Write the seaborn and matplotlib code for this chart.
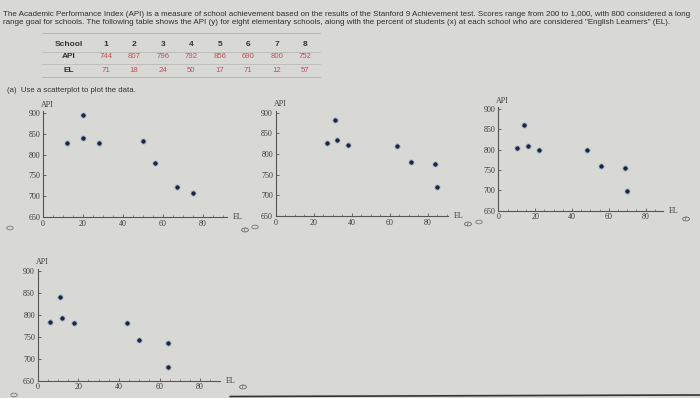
import matplotlib
matplotlib.use("Agg")
import matplotlib.pyplot as plt
import seaborn as sns
import pandas as pd
from matplotlib.patches import Circle

# ---------------- data ----------------
schools = ["1", "2", "3", "4", "5", "6", "7", "8"]
api_values = ["744", "807", "796", "792", "856", "690", "800", "752"]
el_values = ["71", "18", "24", "50", "17", "71", "12", "57"]

# candidate scatterplots
el_a = [12, 20, 20, 28, 50, 56, 67, 75]
api_a = [827, 894, 840, 829, 832, 781, 723, 708]

el_b = [27, 31, 32, 38, 64, 71, 84, 85]
api_b = [826, 882, 834, 822, 820, 781, 777, 719]

el_c = [10, 14, 16, 22, 48, 56, 69, 70]
api_c = [804, 860, 810, 800, 799, 760, 754, 699]

el_d = [6, 11, 12, 18, 44, 50, 64, 64]
api_d = [783, 841, 792, 781, 782, 742, 736, 681]

y_ticks = [650, 700, 750, 800, 850, 900]
x_ticks = [0, 20, 40, 60, 80]

header_1 = ("The Academic Performance Index (API) is a measure of school achievement based on the results of the "
            "Stanford 9 Achievement test. Scores range from 200 to 1,000, with 800 considered a long")
header_2 = ("range goal for schools. The following table shows the API (y) for eight elementary schools, along with "
            "the percent of students (x) at each school who are considered \"English Learners\" (EL).")
part_a = "(a)  Use a scatterplot to plot the data."

# ---------------- figure ----------------
sns.set_theme(style="white")
plt.rcParams["font.family"] = ["Liberation Sans", "DejaVu Sans"]

W, H = 700, 398
BG = "#d8d8d5"
fig = plt.figure(figsize=(7.0, 3.98), dpi=100, facecolor=BG)


def fx(px):
    return px / W


def fy(py):
    return 1 - py / H


# header text
fig.text(fx(3), fy(14), header_1, fontsize=5.75, color="#2e2e2e", va="center", ha="left")
fig.text(fx(3), fy(23), header_2, fontsize=5.75, color="#2e2e2e", va="center", ha="left")

# table
tab_x0, tab_x1 = 42, 320
for yy, lw in [(33, 0.7), (52, 0.5), (64, 0.5), (77, 0.7)]:
    fig.add_artist(plt.Line2D([fx(tab_x0), fx(tab_x1)], [fy(yy), fy(yy)],
                              color="#b5b5b5", lw=lw))
col_x = [105.7 + i * 28.5 for i in range(8)]
row_y = [44, 57, 70]
fig.text(fx(69), fy(row_y[0]), "School", fontsize=6.0, fontweight="bold", color="#333",
         ha="center", va="center")
fig.text(fx(69), fy(row_y[1]), "API", fontsize=6.0, fontweight="bold", color="#333",
         ha="center", va="center")
fig.text(fx(69), fy(row_y[2]), "EL", fontsize=6.0, fontweight="bold", color="#333",
         ha="center", va="center")
for i in range(8):
    fig.text(fx(col_x[i]), fy(row_y[0]), schools[i], fontsize=6.0, fontweight="bold",
             color="#333", ha="center", va="center")
    fig.text(fx(col_x[i]), fy(row_y[1]), api_values[i], fontsize=5.6, color="#c0505e",
             ha="center", va="center")
    fig.text(fx(col_x[i]), fy(row_y[2]), el_values[i], fontsize=5.6, color="#c0505e",
             ha="center", va="center")

fig.text(fx(7), fy(90), part_a, fontsize=5.6, color="#333333", va="center", ha="left")


def panel(el, api, x0, ppux, xmax, y900, y650):
    ppuy = (y650 - y900) / 250.0
    top = y900 - 4 * ppuy
    ax = fig.add_axes([fx(x0), fy(y650), xmax * ppux / W, (y650 - top) / H])
    ax.set_facecolor("none")
    df = pd.DataFrame({"EL": el, "API": api})
    sns.scatterplot(data=df, x="EL", y="API", ax=ax, s=15, color="#1b2440",
                    edgecolor="#b7c4d4", linewidth=0.7, zorder=3)
    ax.set_xlim(0, xmax)
    ax.set_ylim(650, 904)
    ax.set_xticks(x_ticks)
    ax.set_xticks(list(range(0, int(xmax) + 1, 5)), minor=True)
    ax.set_yticks(y_ticks)
    ax.set_xlabel("")
    ax.set_ylabel("")
    for s in ["top", "right"]:
        ax.spines[s].set_visible(False)
    for s in ["left", "bottom"]:
        ax.spines[s].set_color("#555555")
        ax.spines[s].set_linewidth(0.8)
    ax.tick_params(axis="both", which="major", direction="in", length=2, width=0.6,
                   color="#555555", labelsize=5.8, labelcolor="#3c3c3c", pad=2,
                   bottom=True, left=True)
    ax.tick_params(axis="x", which="minor", direction="in", length=1.2, width=0.5,
                   color="#666666", bottom=True)
    for lab in ax.get_xticklabels() + ax.get_yticklabels():
        lab.set_fontfamily(["Liberation Serif", "DejaVu Serif"])
    ax.annotate("API", xy=(0, 1), xycoords="axes fraction", xytext=(3, 2),
                textcoords="offset points", ha="center", va="bottom", fontsize=5.8,
                color="#3c3c3c", family=["Liberation Serif", "DejaVu Serif"])
    ax.annotate("EL", xy=(1, 0), xycoords="axes fraction", xytext=(4, 0),
                textcoords="offset points", ha="left", va="center", fontsize=5.8,
                color="#3c3c3c", family=["Liberation Serif", "DejaVu Serif"])
    return ax


panel(el_a, api_a, 43, 2.0, 92, 113, 217)
panel(el_b, api_b, 275.7, 1.9, 90.7, 112.7, 216)
panel(el_c, api_c, 498.3, 1.84, 89.5, 109, 210.7)
panel(el_d, api_d, 37.7, 2.03, 89.8, 270.7, 380.7)


def radio(px, py, r=3.2):
    fig.add_artist(Circle((fx(px), fy(py)), r / W, transform=fig.transFigure,
                          fill=False, edgecolor="#777777", lw=0.6))


def info(px, py, r=3.4):
    fig.add_artist(Circle((fx(px), fy(py)), r / W, transform=fig.transFigure,
                          fill=False, edgecolor="#666666", lw=0.6))
    fig.text(fx(px), fy(py), "i", fontsize=4.5, color="#555555", ha="center",
             va="center", style="italic")


radio(10, 228)
info(245, 230)
radio(255, 227)
info(468, 224)
radio(479, 222)
info(686, 219)
info(243, 387)
radio(14, 395)

# dark edge at the bottom of the photo
fig.add_artist(plt.Line2D([fx(230), fx(700)], [fy(396.5), fy(395)], color="#333333", lw=1.2))

fig.savefig("out.png", dpi=100, facecolor=BG)
